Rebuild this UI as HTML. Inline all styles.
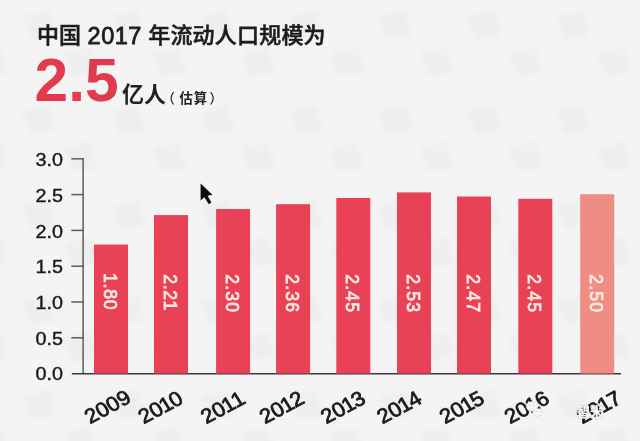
<!DOCTYPE html>
<html lang="zh-CN">
<head>
<meta charset="utf-8">
<title>中国 2017 年流动人口规模</title>
<style>
html,body{margin:0;padding:0;}
body{width:640px;height:441px;overflow:hidden;background:#f5f4f5;position:relative;
  font-family:"Liberation Sans","Noto Sans CJK SC",sans-serif;color:#1a1a1a;}
.title{position:absolute;left:36.9px;top:20.2px;font-size:22px;line-height:30px;font-weight:500;white-space:nowrap;color:#1c1c1c;letter-spacing:0.2px;-webkit-text-stroke:0.55px #1c1c1c;}
.title b{font-weight:normal;font-size:23.5px;line-height:30px;-webkit-text-stroke:0.8px #1c1c1c;letter-spacing:0.5px;position:relative;top:0.6px;}
.big{position:absolute;left:34.5px;top:48px;font-size:60.5px;line-height:64px;font-weight:bold;color:#e23b4e;white-space:nowrap;letter-spacing:0;}
.unit{position:absolute;left:122px;top:80px;font-size:22px;line-height:30px;font-weight:700;color:#222;white-space:nowrap;}
.est{position:absolute;left:161.5px;top:89px;font-size:13.3px;line-height:20px;font-weight:700;color:#222;white-space:nowrap;letter-spacing:1px;}
.est i{font-style:normal;font-weight:500;}
svg{position:absolute;left:0;top:0;}
svg text{font-family:"Liberation Sans","Noto Sans CJK SC",sans-serif;}
</style>
</head>
<body>
<div class="title">中国 <b>2017</b> 年流动人口规模为</div>
<div class="big">2.5</div>
<div class="unit">亿人</div>
<div class="est"><i>（</i>&thinsp;估算<i style="margin-left:1.5px">）</i></div>
<svg width="640" height="441" viewBox="0 0 640 441">
  <defs>
    <filter id="bl" x="-5%" y="-5%" width="110%" height="110%"><feGaussianBlur stdDeviation="3"/></filter>
  </defs>
  <g fill="#000" fill-opacity="0.022" filter="url(#bl)">
    <circle cx="-17" cy="58" r="8"/><circle cx="-3" cy="54" r="7"/><circle cx="-13" cy="70" r="7"/><circle cx="0" cy="67" r="8"/>
    <circle cx="31" cy="21" r="8"/><circle cx="45" cy="17" r="7"/><circle cx="35" cy="33" r="7"/><circle cx="48" cy="30" r="8"/>
    <circle cx="72" cy="58" r="8"/><circle cx="86" cy="54" r="7"/><circle cx="76" cy="70" r="7"/><circle cx="89" cy="67" r="8"/>
    <circle cx="120" cy="21" r="8"/><circle cx="134" cy="17" r="7"/><circle cx="124" cy="33" r="7"/><circle cx="137" cy="30" r="8"/>
    <circle cx="161" cy="58" r="8"/><circle cx="175" cy="54" r="7"/><circle cx="165" cy="70" r="7"/><circle cx="178" cy="67" r="8"/>
    <circle cx="209" cy="21" r="8"/><circle cx="223" cy="17" r="7"/><circle cx="213" cy="33" r="7"/><circle cx="226" cy="30" r="8"/>
    <circle cx="250" cy="58" r="8"/><circle cx="264" cy="54" r="7"/><circle cx="254" cy="70" r="7"/><circle cx="267" cy="67" r="8"/>
    <circle cx="298" cy="21" r="8"/><circle cx="312" cy="17" r="7"/><circle cx="302" cy="33" r="7"/><circle cx="315" cy="30" r="8"/>
    <circle cx="339" cy="58" r="8"/><circle cx="353" cy="54" r="7"/><circle cx="343" cy="70" r="7"/><circle cx="356" cy="67" r="8"/>
    <circle cx="387" cy="21" r="8"/><circle cx="401" cy="17" r="7"/><circle cx="391" cy="33" r="7"/><circle cx="404" cy="30" r="8"/>
    <circle cx="428" cy="58" r="8"/><circle cx="442" cy="54" r="7"/><circle cx="432" cy="70" r="7"/><circle cx="445" cy="67" r="8"/>
    <circle cx="476" cy="21" r="8"/><circle cx="490" cy="17" r="7"/><circle cx="480" cy="33" r="7"/><circle cx="493" cy="30" r="8"/>
    <circle cx="517" cy="58" r="8"/><circle cx="531" cy="54" r="7"/><circle cx="521" cy="70" r="7"/><circle cx="534" cy="67" r="8"/>
    <circle cx="565" cy="21" r="8"/><circle cx="579" cy="17" r="7"/><circle cx="569" cy="33" r="7"/><circle cx="582" cy="30" r="8"/>
    <circle cx="606" cy="58" r="8"/><circle cx="620" cy="54" r="7"/><circle cx="610" cy="70" r="7"/><circle cx="623" cy="67" r="8"/>
    <circle cx="-17" cy="153" r="8"/><circle cx="-3" cy="149" r="7"/><circle cx="-13" cy="165" r="7"/><circle cx="0" cy="162" r="8"/>
    <circle cx="31" cy="116" r="8"/><circle cx="45" cy="112" r="7"/><circle cx="35" cy="128" r="7"/><circle cx="48" cy="125" r="8"/>
    <circle cx="72" cy="153" r="8"/><circle cx="86" cy="149" r="7"/><circle cx="76" cy="165" r="7"/><circle cx="89" cy="162" r="8"/>
    <circle cx="120" cy="116" r="8"/><circle cx="134" cy="112" r="7"/><circle cx="124" cy="128" r="7"/><circle cx="137" cy="125" r="8"/>
    <circle cx="161" cy="153" r="8"/><circle cx="175" cy="149" r="7"/><circle cx="165" cy="165" r="7"/><circle cx="178" cy="162" r="8"/>
    <circle cx="209" cy="116" r="8"/><circle cx="223" cy="112" r="7"/><circle cx="213" cy="128" r="7"/><circle cx="226" cy="125" r="8"/>
    <circle cx="250" cy="153" r="8"/><circle cx="264" cy="149" r="7"/><circle cx="254" cy="165" r="7"/><circle cx="267" cy="162" r="8"/>
    <circle cx="298" cy="116" r="8"/><circle cx="312" cy="112" r="7"/><circle cx="302" cy="128" r="7"/><circle cx="315" cy="125" r="8"/>
    <circle cx="339" cy="153" r="8"/><circle cx="353" cy="149" r="7"/><circle cx="343" cy="165" r="7"/><circle cx="356" cy="162" r="8"/>
    <circle cx="387" cy="116" r="8"/><circle cx="401" cy="112" r="7"/><circle cx="391" cy="128" r="7"/><circle cx="404" cy="125" r="8"/>
    <circle cx="428" cy="153" r="8"/><circle cx="442" cy="149" r="7"/><circle cx="432" cy="165" r="7"/><circle cx="445" cy="162" r="8"/>
    <circle cx="476" cy="116" r="8"/><circle cx="490" cy="112" r="7"/><circle cx="480" cy="128" r="7"/><circle cx="493" cy="125" r="8"/>
    <circle cx="517" cy="153" r="8"/><circle cx="531" cy="149" r="7"/><circle cx="521" cy="165" r="7"/><circle cx="534" cy="162" r="8"/>
    <circle cx="565" cy="116" r="8"/><circle cx="579" cy="112" r="7"/><circle cx="569" cy="128" r="7"/><circle cx="582" cy="125" r="8"/>
    <circle cx="606" cy="153" r="8"/><circle cx="620" cy="149" r="7"/><circle cx="610" cy="165" r="7"/><circle cx="623" cy="162" r="8"/>
    <circle cx="-17" cy="248" r="8"/><circle cx="-3" cy="244" r="7"/><circle cx="-13" cy="260" r="7"/><circle cx="0" cy="257" r="8"/>
    <circle cx="31" cy="211" r="8"/><circle cx="45" cy="207" r="7"/><circle cx="35" cy="223" r="7"/><circle cx="48" cy="220" r="8"/>
    <circle cx="72" cy="248" r="8"/><circle cx="86" cy="244" r="7"/><circle cx="76" cy="260" r="7"/><circle cx="89" cy="257" r="8"/>
    <circle cx="120" cy="211" r="8"/><circle cx="134" cy="207" r="7"/><circle cx="124" cy="223" r="7"/><circle cx="137" cy="220" r="8"/>
    <circle cx="161" cy="248" r="8"/><circle cx="175" cy="244" r="7"/><circle cx="165" cy="260" r="7"/><circle cx="178" cy="257" r="8"/>
    <circle cx="209" cy="211" r="8"/><circle cx="223" cy="207" r="7"/><circle cx="213" cy="223" r="7"/><circle cx="226" cy="220" r="8"/>
    <circle cx="250" cy="248" r="8"/><circle cx="264" cy="244" r="7"/><circle cx="254" cy="260" r="7"/><circle cx="267" cy="257" r="8"/>
    <circle cx="298" cy="211" r="8"/><circle cx="312" cy="207" r="7"/><circle cx="302" cy="223" r="7"/><circle cx="315" cy="220" r="8"/>
    <circle cx="339" cy="248" r="8"/><circle cx="353" cy="244" r="7"/><circle cx="343" cy="260" r="7"/><circle cx="356" cy="257" r="8"/>
    <circle cx="387" cy="211" r="8"/><circle cx="401" cy="207" r="7"/><circle cx="391" cy="223" r="7"/><circle cx="404" cy="220" r="8"/>
    <circle cx="428" cy="248" r="8"/><circle cx="442" cy="244" r="7"/><circle cx="432" cy="260" r="7"/><circle cx="445" cy="257" r="8"/>
    <circle cx="476" cy="211" r="8"/><circle cx="490" cy="207" r="7"/><circle cx="480" cy="223" r="7"/><circle cx="493" cy="220" r="8"/>
    <circle cx="517" cy="248" r="8"/><circle cx="531" cy="244" r="7"/><circle cx="521" cy="260" r="7"/><circle cx="534" cy="257" r="8"/>
    <circle cx="565" cy="211" r="8"/><circle cx="579" cy="207" r="7"/><circle cx="569" cy="223" r="7"/><circle cx="582" cy="220" r="8"/>
    <circle cx="606" cy="248" r="8"/><circle cx="620" cy="244" r="7"/><circle cx="610" cy="260" r="7"/><circle cx="623" cy="257" r="8"/>
    <circle cx="-17" cy="343" r="8"/><circle cx="-3" cy="339" r="7"/><circle cx="-13" cy="355" r="7"/><circle cx="0" cy="352" r="8"/>
    <circle cx="31" cy="306" r="8"/><circle cx="45" cy="302" r="7"/><circle cx="35" cy="318" r="7"/><circle cx="48" cy="315" r="8"/>
    <circle cx="72" cy="343" r="8"/><circle cx="86" cy="339" r="7"/><circle cx="76" cy="355" r="7"/><circle cx="89" cy="352" r="8"/>
    <circle cx="120" cy="306" r="8"/><circle cx="134" cy="302" r="7"/><circle cx="124" cy="318" r="7"/><circle cx="137" cy="315" r="8"/>
    <circle cx="161" cy="343" r="8"/><circle cx="175" cy="339" r="7"/><circle cx="165" cy="355" r="7"/><circle cx="178" cy="352" r="8"/>
    <circle cx="209" cy="306" r="8"/><circle cx="223" cy="302" r="7"/><circle cx="213" cy="318" r="7"/><circle cx="226" cy="315" r="8"/>
    <circle cx="250" cy="343" r="8"/><circle cx="264" cy="339" r="7"/><circle cx="254" cy="355" r="7"/><circle cx="267" cy="352" r="8"/>
    <circle cx="298" cy="306" r="8"/><circle cx="312" cy="302" r="7"/><circle cx="302" cy="318" r="7"/><circle cx="315" cy="315" r="8"/>
    <circle cx="339" cy="343" r="8"/><circle cx="353" cy="339" r="7"/><circle cx="343" cy="355" r="7"/><circle cx="356" cy="352" r="8"/>
    <circle cx="387" cy="306" r="8"/><circle cx="401" cy="302" r="7"/><circle cx="391" cy="318" r="7"/><circle cx="404" cy="315" r="8"/>
    <circle cx="428" cy="343" r="8"/><circle cx="442" cy="339" r="7"/><circle cx="432" cy="355" r="7"/><circle cx="445" cy="352" r="8"/>
    <circle cx="476" cy="306" r="8"/><circle cx="490" cy="302" r="7"/><circle cx="480" cy="318" r="7"/><circle cx="493" cy="315" r="8"/>
    <circle cx="517" cy="343" r="8"/><circle cx="531" cy="339" r="7"/><circle cx="521" cy="355" r="7"/><circle cx="534" cy="352" r="8"/>
    <circle cx="565" cy="306" r="8"/><circle cx="579" cy="302" r="7"/><circle cx="569" cy="318" r="7"/><circle cx="582" cy="315" r="8"/>
    <circle cx="606" cy="343" r="8"/><circle cx="620" cy="339" r="7"/><circle cx="610" cy="355" r="7"/><circle cx="623" cy="352" r="8"/>
    <circle cx="-17" cy="438" r="8"/><circle cx="-3" cy="434" r="7"/><circle cx="-13" cy="450" r="7"/><circle cx="0" cy="447" r="8"/>
    <circle cx="31" cy="401" r="8"/><circle cx="45" cy="397" r="7"/><circle cx="35" cy="413" r="7"/><circle cx="48" cy="410" r="8"/>
    <circle cx="72" cy="438" r="8"/><circle cx="86" cy="434" r="7"/><circle cx="76" cy="450" r="7"/><circle cx="89" cy="447" r="8"/>
    <circle cx="120" cy="401" r="8"/><circle cx="134" cy="397" r="7"/><circle cx="124" cy="413" r="7"/><circle cx="137" cy="410" r="8"/>
    <circle cx="161" cy="438" r="8"/><circle cx="175" cy="434" r="7"/><circle cx="165" cy="450" r="7"/><circle cx="178" cy="447" r="8"/>
    <circle cx="209" cy="401" r="8"/><circle cx="223" cy="397" r="7"/><circle cx="213" cy="413" r="7"/><circle cx="226" cy="410" r="8"/>
    <circle cx="250" cy="438" r="8"/><circle cx="264" cy="434" r="7"/><circle cx="254" cy="450" r="7"/><circle cx="267" cy="447" r="8"/>
    <circle cx="298" cy="401" r="8"/><circle cx="312" cy="397" r="7"/><circle cx="302" cy="413" r="7"/><circle cx="315" cy="410" r="8"/>
    <circle cx="339" cy="438" r="8"/><circle cx="353" cy="434" r="7"/><circle cx="343" cy="450" r="7"/><circle cx="356" cy="447" r="8"/>
    <circle cx="387" cy="401" r="8"/><circle cx="401" cy="397" r="7"/><circle cx="391" cy="413" r="7"/><circle cx="404" cy="410" r="8"/>
    <circle cx="428" cy="438" r="8"/><circle cx="442" cy="434" r="7"/><circle cx="432" cy="450" r="7"/><circle cx="445" cy="447" r="8"/>
    <circle cx="476" cy="401" r="8"/><circle cx="490" cy="397" r="7"/><circle cx="480" cy="413" r="7"/><circle cx="493" cy="410" r="8"/>
    <circle cx="517" cy="438" r="8"/><circle cx="531" cy="434" r="7"/><circle cx="521" cy="450" r="7"/><circle cx="534" cy="447" r="8"/>
    <circle cx="565" cy="401" r="8"/><circle cx="579" cy="397" r="7"/><circle cx="569" cy="413" r="7"/><circle cx="582" cy="410" r="8"/>
    <circle cx="606" cy="438" r="8"/><circle cx="620" cy="434" r="7"/><circle cx="610" cy="450" r="7"/><circle cx="623" cy="447" r="8"/>
  </g>
  <g stroke="#5c5c5c" stroke-width="1.5" fill="none">
    <line x1="83.1" y1="158.1" x2="83.1" y2="373.6"/>
    <line x1="71.3" y1="158.80" x2="83.8" y2="158.80"/>
    <line x1="71.3" y1="194.60" x2="83.8" y2="194.60"/>
    <line x1="71.3" y1="230.40" x2="83.8" y2="230.40"/>
    <line x1="71.3" y1="266.20" x2="83.8" y2="266.20"/>
    <line x1="71.3" y1="302.00" x2="83.8" y2="302.00"/>
    <line x1="71.3" y1="337.80" x2="83.8" y2="337.80"/>
  </g>
  <line x1="71.8" y1="373.7" x2="621" y2="373.7" stroke="#3a3a3a" stroke-width="1.4"/>
  <g font-size="18.3" fill="#1a1a1a" stroke="#1a1a1a" stroke-width="0.4" text-anchor="end">
    <text transform="translate(62.9,166.40) scale(1.08,1)">3.0</text>
    <text transform="translate(62.9,202.07) scale(1.08,1)">2.5</text>
    <text transform="translate(62.9,237.74) scale(1.08,1)">2.0</text>
    <text transform="translate(62.9,273.41) scale(1.08,1)">1.5</text>
    <text transform="translate(62.9,309.08) scale(1.08,1)">1.0</text>
    <text transform="translate(62.9,344.75) scale(1.08,1)">0.5</text>
    <text transform="translate(62.9,380.42) scale(1.08,1)">0.0</text>
  </g>
  <g fill="#e94155">
    <rect x="94.0" y="244.6" width="34" height="128.9"/>
    <rect x="154.0" y="215.1" width="34" height="158.4"/>
    <rect x="216.1" y="209.0" width="34" height="164.5"/>
    <rect x="276.1" y="204.2" width="34" height="169.3"/>
    <rect x="336.3" y="198.0" width="34" height="175.5"/>
    <rect x="397.0" y="192.4" width="34" height="181.1"/>
    <rect x="457.0" y="196.5" width="34" height="177.0"/>
    <rect x="518.3" y="198.8" width="34" height="174.7"/>
  </g>
  <rect x="580.2" y="194.2" width="34" height="179.3" fill="#ef8d84"/>
  <g font-size="17.6" fill="#fde9e2" stroke="#fde9e2" stroke-width="0.8">
    <text letter-spacing="0.80" transform="translate(103.7,273.0) rotate(90)">1.80</text>
    <text letter-spacing="0.65" transform="translate(163.7,274.2) rotate(90)">2.21</text>
    <text letter-spacing="1.20" transform="translate(225.8,274.2) rotate(90)">2.30</text>
    <text letter-spacing="1.20" transform="translate(285.8,274.2) rotate(90)">2.36</text>
    <text letter-spacing="1.20" transform="translate(346.0,274.2) rotate(90)">2.45</text>
    <text letter-spacing="1.20" transform="translate(406.7,274.2) rotate(90)">2.53</text>
    <text letter-spacing="1.20" transform="translate(466.7,274.2) rotate(90)">2.47</text>
    <text letter-spacing="1.20" transform="translate(528.0,274.2) rotate(90)">2.45</text>
    <text letter-spacing="1.20" transform="translate(589.9,274.2) rotate(90)">2.50</text>
  </g>
  <g font-size="20.5" fill="#1a1a1a" stroke="#1a1a1a" stroke-width="0.75">
    <text transform="translate(90.0,424.2) scale(1.08,1) rotate(-30)">2009</text>
    <text transform="translate(143.8,424.2) scale(1.08,1) rotate(-30)">20<tspan dx="-1">1</tspan><tspan dx="-1">0</tspan></text>
    <text transform="translate(206.3,424.2) scale(1.08,1) rotate(-30)">20<tspan dx="-1">1</tspan><tspan dx="-1.2">1</tspan></text>
    <text transform="translate(265.1,424.2) scale(1.08,1) rotate(-30)">20<tspan dx="-1">1</tspan><tspan dx="-1">2</tspan></text>
    <text transform="translate(326.3,424.2) scale(1.08,1) rotate(-30)">20<tspan dx="-1">1</tspan><tspan dx="-1">3</tspan></text>
    <text transform="translate(382.6,424.2) scale(1.08,1) rotate(-30)">20<tspan dx="-1">1</tspan><tspan dx="-1">4</tspan></text>
    <text transform="translate(445.1,424.2) scale(1.08,1) rotate(-30)">20<tspan dx="-1">1</tspan><tspan dx="-1">5</tspan></text>
    <text transform="translate(510.1,424.2) scale(1.08,1) rotate(-30)">20<tspan dx="-1">1</tspan><tspan dx="-1">6</tspan></text>
    <text transform="translate(582.3,424.2) scale(1.08,1) rotate(-30)">20<tspan dx="-1">1</tspan><tspan dx="-1">7</tspan></text>
  </g>
  <g fill="#f7f6f7" stroke="#c4c2c4" stroke-width="0.45">
    <ellipse cx="532" cy="406.5" rx="5.8" ry="5"/>
    <ellipse cx="537.6" cy="412.4" rx="4.6" ry="3.9"/>
  </g>
  <g fill="#b5b3b5">
    <circle cx="530" cy="405.3" r="0.6"/><circle cx="534" cy="405.3" r="0.6"/>
    <circle cx="536.2" cy="411.6" r="0.5"/><circle cx="539.2" cy="411.6" r="0.5"/>
  </g>
  <text x="576.6" y="417.2" font-size="13.5" font-weight="700" fill="#f8f7f8" stroke="#8f8d8f" stroke-width="0.35" paint-order="stroke">智米</text>
  <path d="M200.6 183.4 L200.6 200.6 L204.4 197.2 L208.8 204.2 L211.4 202.6 L207.6 195.8 L212.4 194.8 Z" fill="#0c0c0c"/>
</svg>
</body>
</html>
